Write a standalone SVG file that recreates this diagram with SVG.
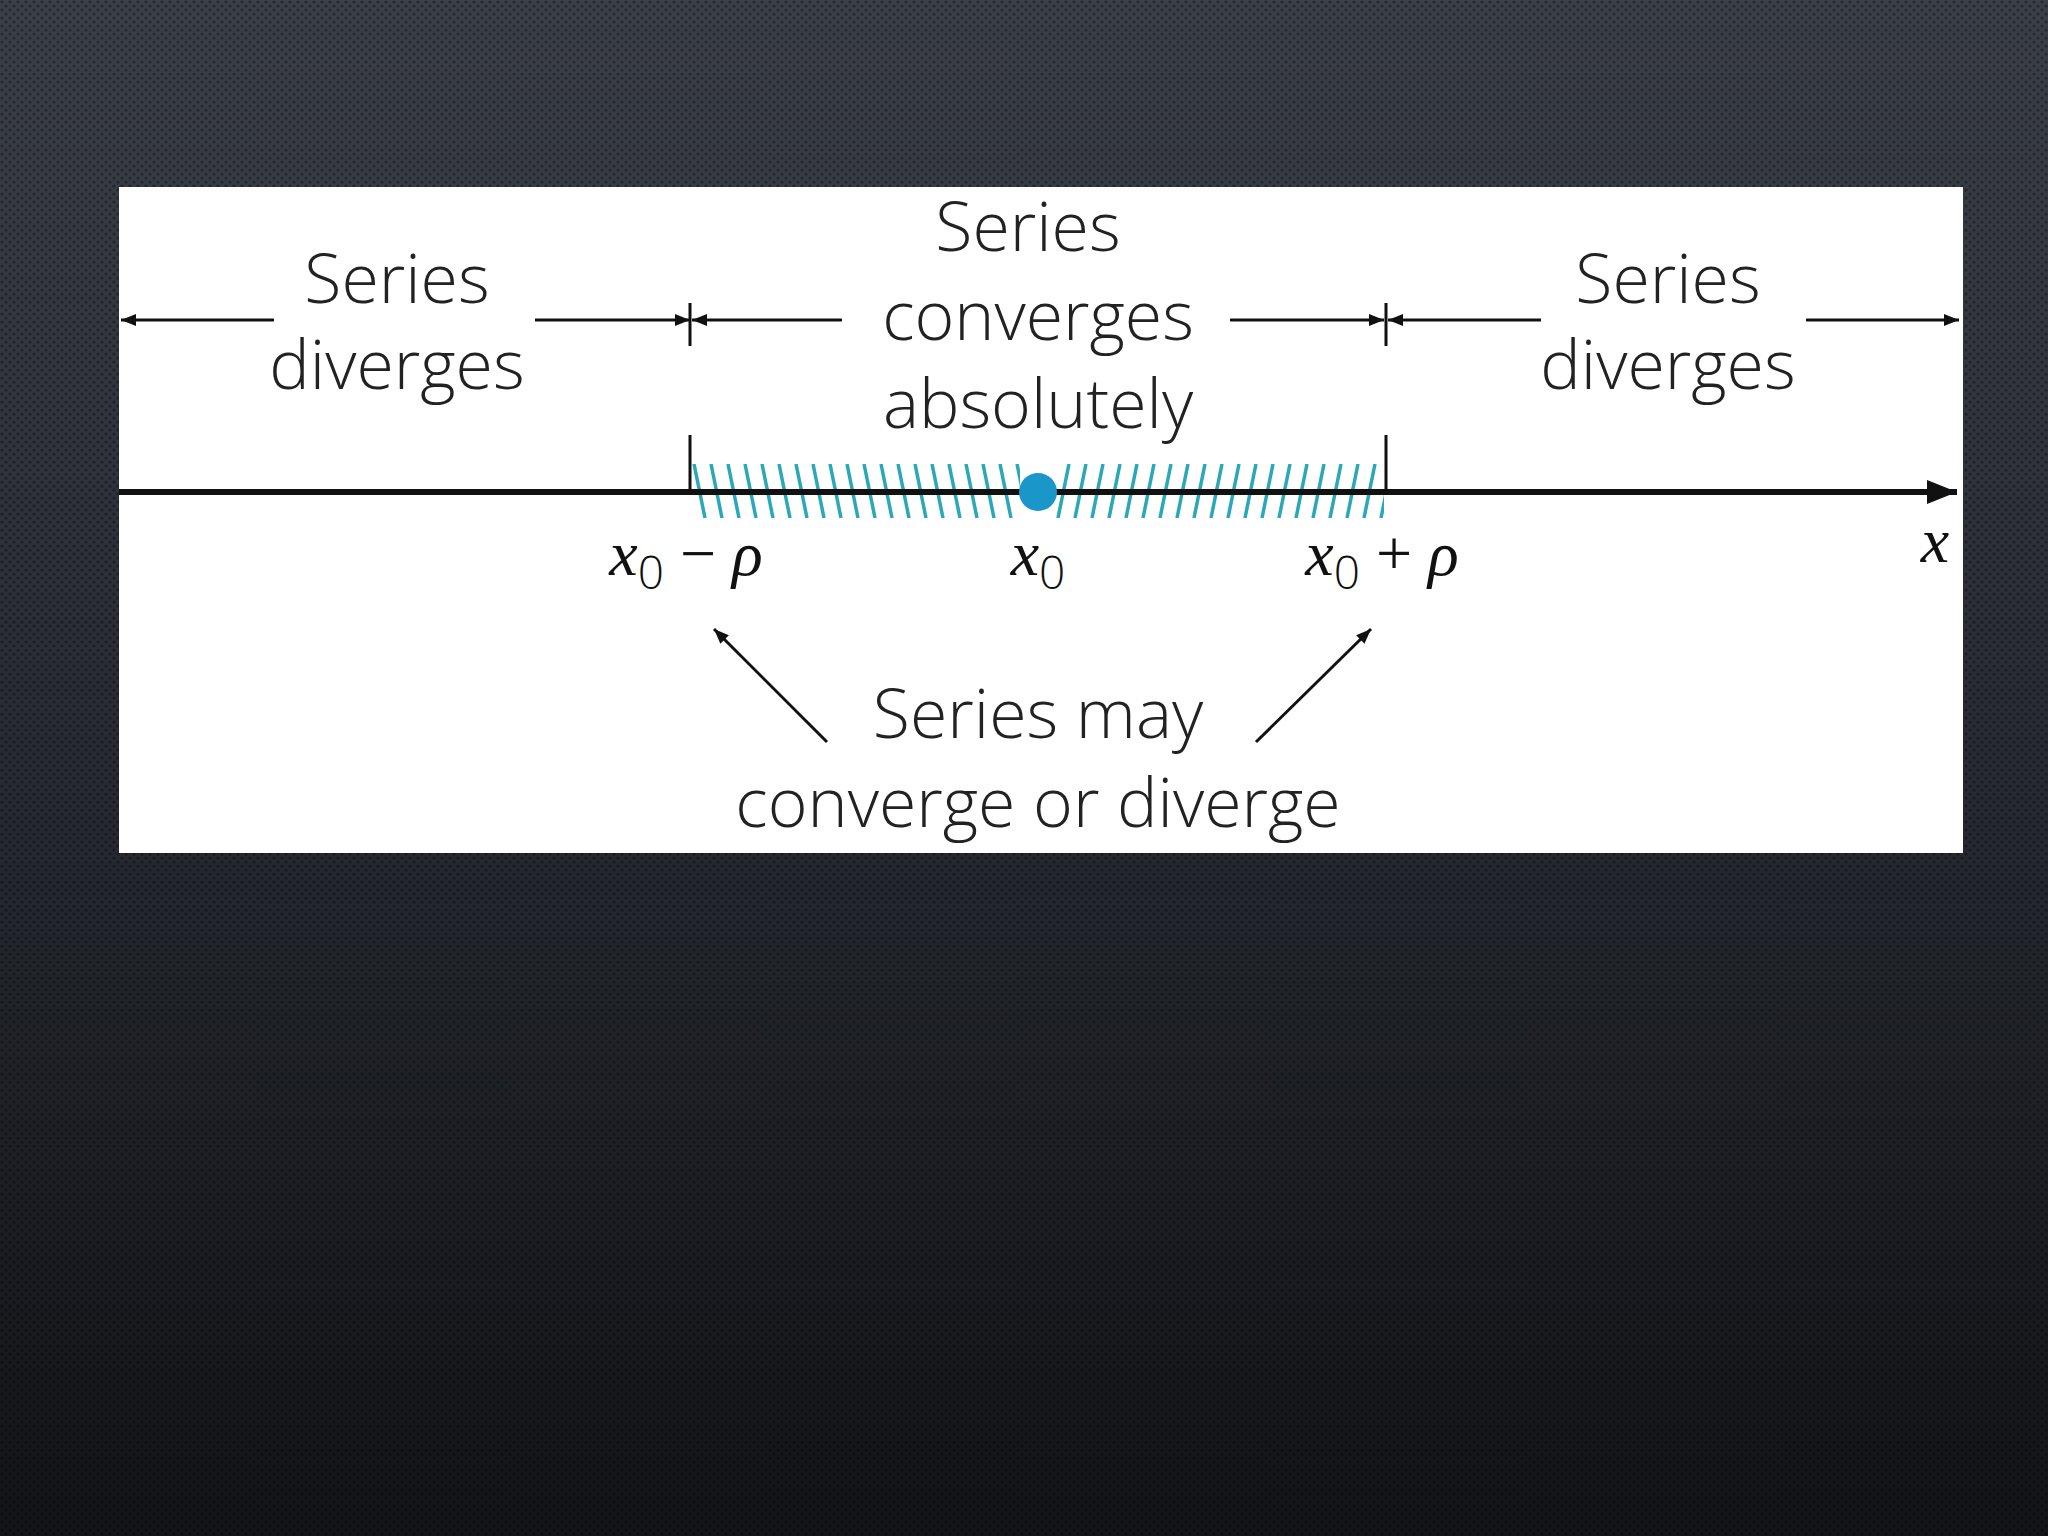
<svg xmlns="http://www.w3.org/2000/svg" width="2048" height="1536" viewBox="0 0 2048 1536">
<defs>
<linearGradient id="bg" x1="0" y1="0" x2="0" y2="1"><stop offset="0" stop-color="#3b4048"/><stop offset="0.6" stop-color="#23262c"/><stop offset="1" stop-color="#121417"/></linearGradient>
<pattern id="dots" width="8" height="8" patternUnits="userSpaceOnUse"><circle cx="2" cy="2" r="1.6" fill="#000" opacity="0.35"/><circle cx="6" cy="6" r="1.6" fill="#000" opacity="0.35"/></pattern>
<pattern id="hl" x="692" y="464" width="17" height="54" patternUnits="userSpaceOnUse"><line x1="2" y1="0" x2="13" y2="54" stroke="#2aa8b8" stroke-width="3.5"/></pattern>
<pattern id="hr" x="1056" y="464" width="17" height="54" patternUnits="userSpaceOnUse"><line x1="13" y1="0" x2="2" y2="54" stroke="#2aa8b8" stroke-width="3.5"/></pattern>
<marker id="ah" viewBox="0 0 10 10" refX="10" refY="5" markerWidth="5" markerHeight="5" orient="auto-start-reverse"><path d="M0,1 L10,5 L0,9 z" fill="#111"/></marker>
<marker id="ahb" viewBox="0 0 10 10" refX="10" refY="5" markerWidth="5" markerHeight="5" orient="auto"><path d="M0,1 L10,5 L0,9 z" fill="#111"/></marker>
</defs>
<style>
.t{font-family:"Open Sans","Liberation Sans",sans-serif;font-weight:300;font-size:68px;fill:#222;text-anchor:middle}
.m{font-family:"Liberation Serif",serif;font-size:64px;fill:#111;text-anchor:middle}
.a{stroke:#111;stroke-width:3;fill:none}
</style>
<rect width="2048" height="1536" fill="url(#bg)"/>
<rect width="2048" height="1536" fill="url(#dots)"/>
<rect x="119" y="187" width="1844" height="666" fill="#fff"/>
<g id="hatch">
<rect x="692" y="464" width="328" height="54" fill="url(#hl)"/>
<rect x="1056" y="464" width="328" height="54" fill="url(#hr)"/>
</g>
<g id="connectors">
<line x1="119" y1="492" x2="1957" y2="492" stroke="#111" stroke-width="6" marker-end="url(#ahb)"/>
<line x1="690" y1="435" x2="690" y2="492" stroke="#111" stroke-width="3"/>
<line x1="1386" y1="435" x2="1386" y2="492" stroke="#111" stroke-width="3"/>
<line x1="274" y1="320" x2="121" y2="320" class="a" marker-end="url(#ah)"/>
<line x1="535" y1="320" x2="690" y2="320" class="a" marker-end="url(#ah)"/>
<line x1="690" y1="303" x2="690" y2="346" stroke="#111" stroke-width="3"/>
<line x1="842" y1="320" x2="692" y2="320" class="a" marker-end="url(#ah)"/>
<line x1="1230" y1="320" x2="1384" y2="320" class="a" marker-end="url(#ah)"/>
<line x1="1386" y1="303" x2="1386" y2="346" stroke="#111" stroke-width="3"/>
<line x1="1541" y1="320" x2="1388" y2="320" class="a" marker-end="url(#ah)"/>
<line x1="1806" y1="320" x2="1959" y2="320" class="a" marker-end="url(#ah)"/>
<line x1="827" y1="742" x2="714" y2="629" class="a" marker-end="url(#ah)"/>
<line x1="1256" y1="742" x2="1371" y2="629" class="a" marker-end="url(#ah)"/>
</g>
<g id="center"><circle cx="1038" cy="492" r="19" fill="#1a96c8"/></g>
<g id="left-label"><text class="t" x="397" y="303">Series</text><text class="t" x="397" y="389">diverges</text></g>
<g id="mid-label"><text class="t" x="1028" y="251">Series</text><text class="t" x="1038" y="340">converges</text><text class="t" x="1038" y="428">absolutely</text></g>
<g id="right-label"><text class="t" x="1668" y="303">Series</text><text class="t" x="1668" y="389">diverges</text></g>
<g id="ticks-labels">
<text class="m" x="686" y="575"><tspan font-style="italic">x</tspan><tspan font-family="Open Sans, sans-serif" font-weight="300" font-size="46" dy="14">0</tspan><tspan dy="-14"> − </tspan><tspan font-style="italic">ρ</tspan></text>
<text class="m" x="1038" y="575"><tspan font-style="italic">x</tspan><tspan font-family="Open Sans, sans-serif" font-weight="300" font-size="46" dy="14">0</tspan></text>
<text class="m" x="1382" y="575"><tspan font-style="italic">x</tspan><tspan font-family="Open Sans, sans-serif" font-weight="300" font-size="46" dy="14">0</tspan><tspan dy="-14"> + </tspan><tspan font-style="italic">ρ</tspan></text>
<text class="m" x="1935" y="562" font-style="italic">x</text>
</g>
<g id="bottom-label"><text class="t" x="1038" y="738">Series may</text><text class="t" x="1038" y="827">converge or diverge</text></g>
</svg>
